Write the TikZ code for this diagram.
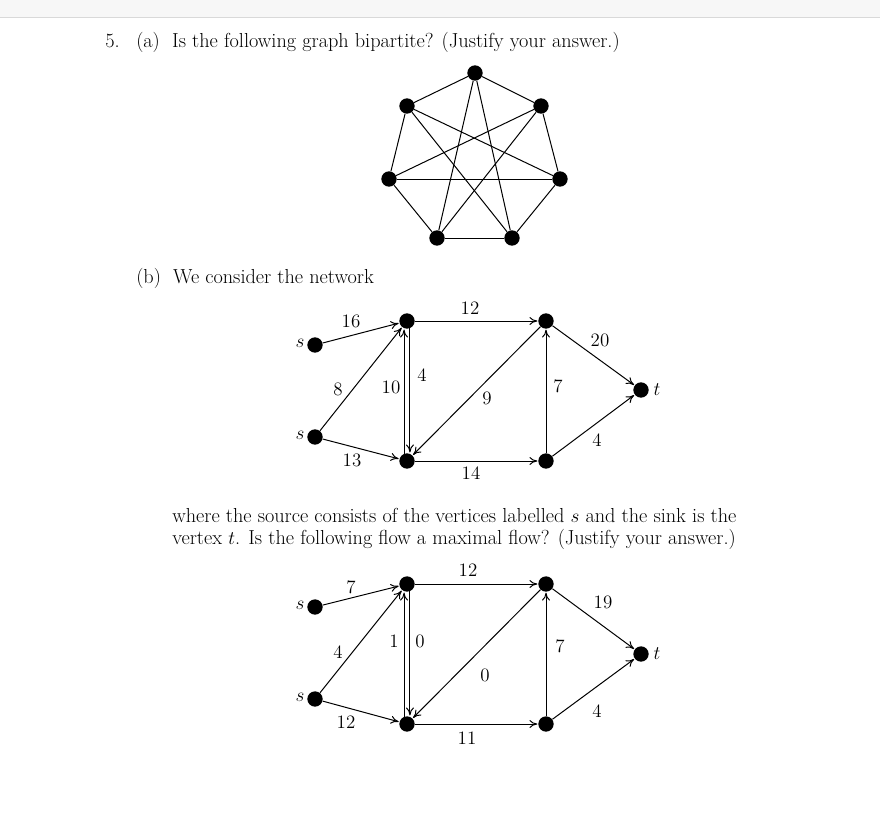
\documentclass[tikz,border=0pt]{standalone}
\usetikzlibrary{arrows.meta}
\begin{document}
\begin{tikzpicture}[x=0.75pt,y=-0.75pt,
 v/.style={circle,fill=black,inner sep=0pt,minimum size=11.5pt},
 e/.style={line width=0.75pt},
 a/.style={e,-{To[length=6pt,width=6pt]},shorten >=0.5pt},
 lab/.style={font=\fontsize{14.2}{17}\selectfont,inner sep=0pt},
 txt/.style={font=\fontsize{15.2}{18}\selectfont,inner sep=0pt,anchor=base west}]
\useasboundingbox (0,0) rectangle (880,818);
\fill[black!3] (0,0) rectangle (880,17);
\draw[black!15] (0,17) -- (880,17);
\node[txt] (t1) at (105,47) {5.};
\node[txt] (t2) at (136,47) {(a)\ \ Is the following graph bipartite? (Justify your answer.)};
\node[txt] (t3) at (136,283) {(b)\ \ We consider the network};
\node[txt] (t4) at (172,522) {where the source consists of the vertices labelled $s$ and the sink is the};
\node[txt] (t5) at (172,544) {vertex $t$. Is the following flow a maximal flow? (Justify your answer.)};
% heptagon
\node[v] (h1) at (475,73) {};
\node[v] (h2) at (541,106) {};
\node[v] (h3) at (560,179) {};
\node[v] (h4) at (512,238) {};
\node[v] (h5) at (437,238) {};
\node[v] (h6) at (389,179) {};
\node[v] (h7) at (407,106) {};
\foreach \p/\q in {h1/h2,h2/h3,h3/h4,h4/h5,h5/h6,h6/h7,h7/h1,h1/h4,h1/h5,h7/h3,h7/h4,h2/h6,h2/h5,h6/h3}
  \draw[e] (\p) -- (\q);
% network 1
\begin{scope}
\node[v] (s1) at (315,345) {}; \node[lab] at (300,343) {$s$};
\node[v] (s2) at (315,437) {}; \node[lab] at (300,435) {$s$};
\node[v] (a) at (407,321) {};
\node[v] (b) at (407,461) {};
\node[v] (c) at (546,321) {};
\node[v] (d) at (546,461) {};
\node[v] (t) at (641,390) {}; \node[lab] at (657,390) {$t$};
\draw[a] (s1) -- (a); \draw[a] (s2) -- (a); \draw[a] (s2) -- (b);
\draw[a] ([xshift=-2.2pt]b.center) -- ([xshift=-2.2pt]a.south);
\draw[a] ([xshift=2.2pt]a.center) -- ([xshift=2.2pt]b.north);
\draw[a] (a) -- (c); \draw[a] (b) -- (d); \draw[a] (c) -- (b);
\draw[a] (d) -- (c); \draw[a] (c) -- (t); \draw[a] (d) -- (t);
\node[lab] at (351,321) {16}; \node[lab] at (338,389) {8};
\node[lab] at (391,387) {10}; \node[lab] at (422,375) {4};
\node[lab] at (470,308) {12}; \node[lab] at (487,398) {9};
\node[lab] at (558,386) {7}; \node[lab] at (600,340) {20};
\node[lab] at (597,440) {4}; \node[lab] at (352,460) {13};
\node[lab] at (471,473) {14};
\end{scope}
% network 2
\begin{scope}
\node[v] (s3) at (315,607) {}; \node[lab] at (300,605) {$s$};
\node[v] (s4) at (315,699) {}; \node[lab] at (300,697) {$s$};
\node[v] (a2) at (407,584) {};
\node[v] (b2) at (407,724) {};
\node[v] (c2) at (546,584) {};
\node[v] (d2) at (546,724) {};
\node[v] (t2n) at (641,654) {}; \node[lab] at (657,654) {$t$};
\draw[a] (s3) -- (a2); \draw[a] (s4) -- (a2); \draw[a] (s4) -- (b2);
\draw[a] ([xshift=-2.2pt]b2.center) -- ([xshift=-2.2pt]a2.south);
\draw[a] ([xshift=2.2pt]a2.center) -- ([xshift=2.2pt]b2.north);
\draw[a] (a2) -- (c2); \draw[a] (b2) -- (d2); \draw[a] (c2) -- (b2);
\draw[a] (d2) -- (c2); \draw[a] (c2) -- (t2n); \draw[a] (d2) -- (t2n);
\node[lab] at (351,587) {7}; \node[lab] at (338,652) {4};
\node[lab] at (394,641) {1}; \node[lab] at (420,641) {0};
\node[lab] at (468,570) {12}; \node[lab] at (485,675) {0};
\node[lab] at (560,646) {7}; \node[lab] at (603,602) {19};
\node[lab] at (597,711) {4}; \node[lab] at (346,722) {12};
\node[lab] at (467,738) {11};
\end{scope}
\end{tikzpicture}
\end{document}
